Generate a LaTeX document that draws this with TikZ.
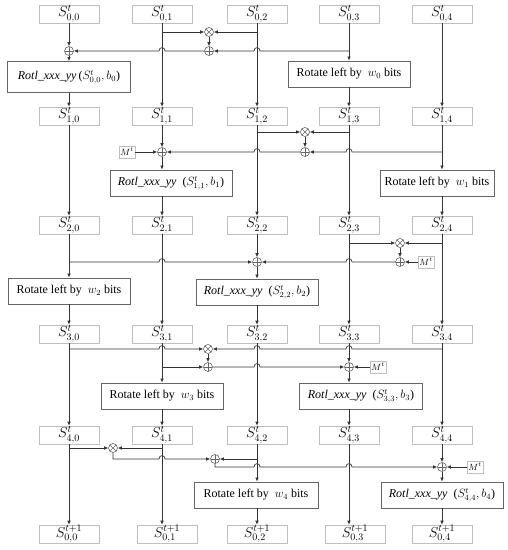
\documentclass[tikz,border=0pt]{standalone}
\usepackage{fontspec}
\setmainfont{Liberation Serif}
\usetikzlibrary{arrows.meta}
\tikzset{
  st/.style={draw=black!25, line width=0.6pt, minimum width=60pt, minimum height=18pt, inner sep=0pt, font=\fontsize{14}{14}\selectfont},
  rb/.style={draw=black!60, line width=0.8pt, minimum height=26pt, inner sep=0pt, font=\fontsize{12}{14}\selectfont},
  mb/.style={draw=black!25, line width=0.6pt, minimum width=16pt, minimum height=12pt, inner sep=0pt, font=\fontsize{9}{9}\selectfont},
  xo/.style={circle, draw=black!60, line width=0.6pt, minimum size=9pt, inner sep=0pt,
    path picture={\draw[black!60, line width=0.5pt] (path picture bounding box.north west) -- (path picture bounding box.south east) (path picture bounding box.north east) -- (path picture bounding box.south west);}},
  po/.style={circle, draw=black!60, line width=0.6pt, minimum size=9pt, inner sep=0pt,
    path picture={\draw[black!60, line width=0.5pt] (path picture bounding box.north) -- (path picture bounding box.south) (path picture bounding box.east) -- (path picture bounding box.west);}},
  ar/.style={draw=black!80, line width=0.7pt, -{Latex[length=4pt,width=3.6pt]}},
  hopl/.style={insert path={-- ([xshift=3pt]#1) .. controls ([xshift=3pt,yshift=4.5pt]#1) and ([xshift=-3pt,yshift=4.5pt]#1) .. ([xshift=-3pt]#1)}},
  hopr/.style={insert path={-- ([xshift=-3pt]#1) .. controls ([xshift=-3pt,yshift=4.5pt]#1) and ([xshift=3pt,yshift=4.5pt]#1) .. ([xshift=3pt]#1)}},
}
\begin{document}
\begin{tikzpicture}[x=1pt,y=-1pt]
\useasboundingbox (0,0) rectangle (508,550);
% row 0
\node[st] (S00) at (69,14) {$S^t_{0,0}$};
\node[st] (S01) at (162,14) {$S^t_{0,1}$};
\node[st] (S02) at (257,14) {$S^t_{0,2}$};
\node[st] (S03) at (349,14) {$S^t_{0,3}$};
\node[st] (S04) at (442,14) {$S^t_{0,4}$};
% round 0
\node[xo] (X0) at (209,32) {};
\node[po] (P0) at (209,51) {};
\node[po] (A0) at (69,51) {};
\node[rb, minimum width=123pt, minimum height=31pt] (R0) at (69,77) {\textit{Rotl\_xxx\_yy}\,($S^t_{0,0},b_0$)};
\node[rb, minimum width=122pt] (W0) at (349,74) {Rotate left by\ \ $w_0$ bits};
% row 1
\node[st] (S10) at (69,116) {$S^t_{1,0}$};
\node[st] (S11) at (162,116) {$S^t_{1,1}$};
\node[st] (S12) at (257,116) {$S^t_{1,2}$};
\node[st] (S13) at (349,116) {$S^t_{1,3}$};
\node[st] (S14) at (442,116) {$S^t_{1,4}$};
% round 1
\node[xo] (X1) at (305,132) {};
\node[po] (P1) at (305,152) {};
\node[po] (A1) at (162,152) {};
\node[mb] (M1) at (127,152) {$M^t$};
\node[rb, minimum width=122pt] (R1) at (171,183) {\textit{Rotl\_xxx\_yy}\ \ ($S^t_{1,1},b_1$)};
\node[rb, minimum width=114pt] (W1) at (437,183) {Rotate left by\ \ $w_1$ bits};
% row 2
\node[st] (S20) at (69,225) {$S^t_{2,0}$};
\node[st] (S21) at (162,225) {$S^t_{2,1}$};
\node[st] (S22) at (257,225) {$S^t_{2,2}$};
\node[st] (S23) at (349,225) {$S^t_{2,3}$};
\node[st] (S24) at (442,225) {$S^t_{2,4}$};
% round 2
\node[xo] (X2) at (400,243) {};
\node[po] (P2) at (400,262) {};
\node[mb] (M2) at (426,262) {$M^t$};
\node[po] (A2) at (257,262) {};
\node[rb, minimum width=122pt] (W2) at (69,291) {Rotate left by\ \ $w_2$ bits};
\node[rb, minimum width=122pt] (R2) at (257,292) {\textit{Rotl\_xxx\_yy}\ \ ($S^t_{2,2},b_2$)};
% row 3
\node[st] (S30) at (69,334) {$S^t_{3,0}$};
\node[st] (S31) at (162,334) {$S^t_{3,1}$};
\node[st] (S32) at (257,334) {$S^t_{3,2}$};
\node[st] (S33) at (349,334) {$S^t_{3,3}$};
\node[st] (S34) at (442,334) {$S^t_{3,4}$};
% round 3
\node[xo] (X3) at (208,349) {};
\node[po] (P3) at (208,367) {};
\node[po] (A3) at (349,367) {};
\node[mb] (M3) at (378,367) {$M^t$};
\node[rb, minimum width=122pt] (W3) at (162,396) {Rotate left by\ \ $w_3$ bits};
\node[rb, minimum width=123pt] (R3) at (361,396) {\textit{Rotl\_xxx\_yy}\ \ ($S^t_{3,3},b_3$)};
% row 4
\node[st] (S40) at (69,435) {$S^t_{4,0}$};
\node[st] (S41) at (162,435) {$S^t_{4,1}$};
\node[st] (S42) at (257,435) {$S^t_{4,2}$};
\node[st] (S43) at (349,435) {$S^t_{4,3}$};
\node[st] (S44) at (442,435) {$S^t_{4,4}$};
% round 4
\node[xo] (X4) at (113,448) {};
\node[po] (P4) at (215,459) {};
\node[po] (A4) at (442,467) {};
\node[mb] (M4) at (475,467) {$M^t$};
\node[rb, minimum width=124pt] (W4) at (256,495) {Rotate left by\ \ $w_4$ bits};
\node[rb, minimum width=122pt] (R4) at (442,495) {\textit{Rotl\_xxx\_yy}\ \ ($S^t_{4,4},b_4$)};
% final row
\node[st] (F0) at (69,534) {$S^{t+1}_{0,0}$};
\node[st] (F1) at (167,534) {$S^{t+1}_{0,1}$};
\node[st] (F2) at (257,534) {$S^{t+1}_{0,2}$};
\node[st] (F3) at (355,534) {$S^{t+1}_{0,3}$};
\node[st] (F4) at (442,534) {$S^{t+1}_{0,4}$};
% hop points
\coordinate (h01) at (S01 |- P0);
\coordinate (h02) at (S02 |- P0);
\coordinate (h12) at (S12 |- P1);
\coordinate (h13) at (S13 |- P1);
\coordinate (h21) at (S21 |- A2);
\coordinate (h23) at (S23 |- A2);
\coordinate (h31) at (S31 |- X3);
\coordinate (h32) at (S32 |- X3);
\coordinate (h33) at (S33 |- X3);
\coordinate (h32b) at (S32 |- P3);
\coordinate (h41) at (S41 |- P4);
\coordinate (h42) at (S42 |- A4);
\coordinate (h43) at (S43 |- A4);
% connectors round 0
\draw[ar] (S00) -- (A0);
\draw[ar] (A0) -- (R0);
\draw[ar] (R0) -- (S10);
\draw[ar] (S01) -- (S11);
\draw[ar] (S01 |- X0) -- (X0);
\draw[ar] (S02) -- (S12);
\draw[ar] (S02 |- X0) -- (X0);
\draw[ar] (X0) -- (P0);
\draw[ar] (S03 |- P0) [hopl=h02] -- (P0);
\draw[ar] (P0) [hopl=h01] -- (A0);
\draw[ar] (S03) -- (W0);
\draw[ar] (W0) -- (S13);
\draw[ar] (S04) -- (S14);
% connectors round 1
\draw[ar] (S10) -- (S20);
\draw[ar] (S11) -- (A1);
\draw[ar] (A1) -- (A1 |- R1.north);
\draw[ar] (A1 |- R1.south) -- (S21);
\draw[ar] (M1) -- (A1);
\draw[ar] (S12) -- (S22);
\draw[ar] (S12 |- X1) -- (X1);
\draw[ar] (S13) -- (S23);
\draw[ar] (S13 |- X1) -- (X1);
\draw[ar] (X1) -- (P1);
\draw[ar] (S14 |- P1) [hopl=h13] -- (P1);
\draw[ar] (P1) [hopl=h12] -- (A1);
\draw[ar] (S14) -- (S14 |- W1.north);
\draw[ar] (S14 |- W1.south) -- (S24);
% connectors round 2
\draw[ar] (S20) -- (W2);
\draw[ar] (W2) -- (S30);
\draw[ar] (S20 |- A2) [hopr=h21] -- (A2);
\draw[ar] (S21) -- (S31);
\draw[ar] (S22) -- (A2);
\draw[ar] (A2) -- (R2);
\draw[ar] (R2) -- (S32);
\draw[ar] (S23) -- (S33);
\draw[ar] (S23 |- X2) -- (X2);
\draw[ar] (S24) -- (S34);
\draw[ar] (S24 |- X2) -- (X2);
\draw[ar] (X2) -- (P2);
\draw[ar] (M2) -- (P2);
\draw[ar] (P2) [hopl=h23] -- (A2);
% connectors round 3
\draw[ar] (S30) -- (S40);
\draw[ar] (S30 |- X3) [hopr=h31] -- (X3);
\draw[ar] (S31) -- (W3);
\draw[ar] (W3) -- (S41);
\draw[ar] (S31 |- P3) -- (P3);
\draw[ar] (S32) -- (S42);
\draw[ar] (S33) -- (A3);
\draw[ar] (A3) -- (A3 |- R3.north);
\draw[ar] (A3 |- R3.south) -- (S43);
\draw[ar] (S34) -- (S44);
\draw[ar] (S34 |- X3) [hopl=h33] [hopl=h32] -- (X3);
\draw[ar] (X3) -- (P3);
\draw[ar] (P3) [hopr=h32b] -- (A3);
\draw[ar] (M3) -- (A3);
% connectors round 4
\draw[ar] (S40) -- (F0);
\draw[ar] (S40 |- X4) -- (X4);
\draw[ar] (S41) -- (S41 |- F1.north);
\draw[ar] (S41 |- X4) -- (X4);
\draw[ar] (X4.south) -- (X4 |- P4) [hopr=h41] -- (P4);
\draw[ar] (S42) -- (S42 |- W4.north);
\draw[ar] (S42 |- W4.south) -- (F2);
\draw[ar] (S42 |- P4) -- (P4);
\draw[ar] (P4.south) -- (P4 |- A4) [hopr=h42] [hopr=h43] -- (A4);
\draw[ar] (S43) -- (S43 |- F3.north);
\draw[ar] (S44) -- (A4);
\draw[ar] (A4) -- (R4);
\draw[ar] (R4) -- (F4);
\draw[ar] (M4) -- (A4);
\end{tikzpicture}
\end{document}
